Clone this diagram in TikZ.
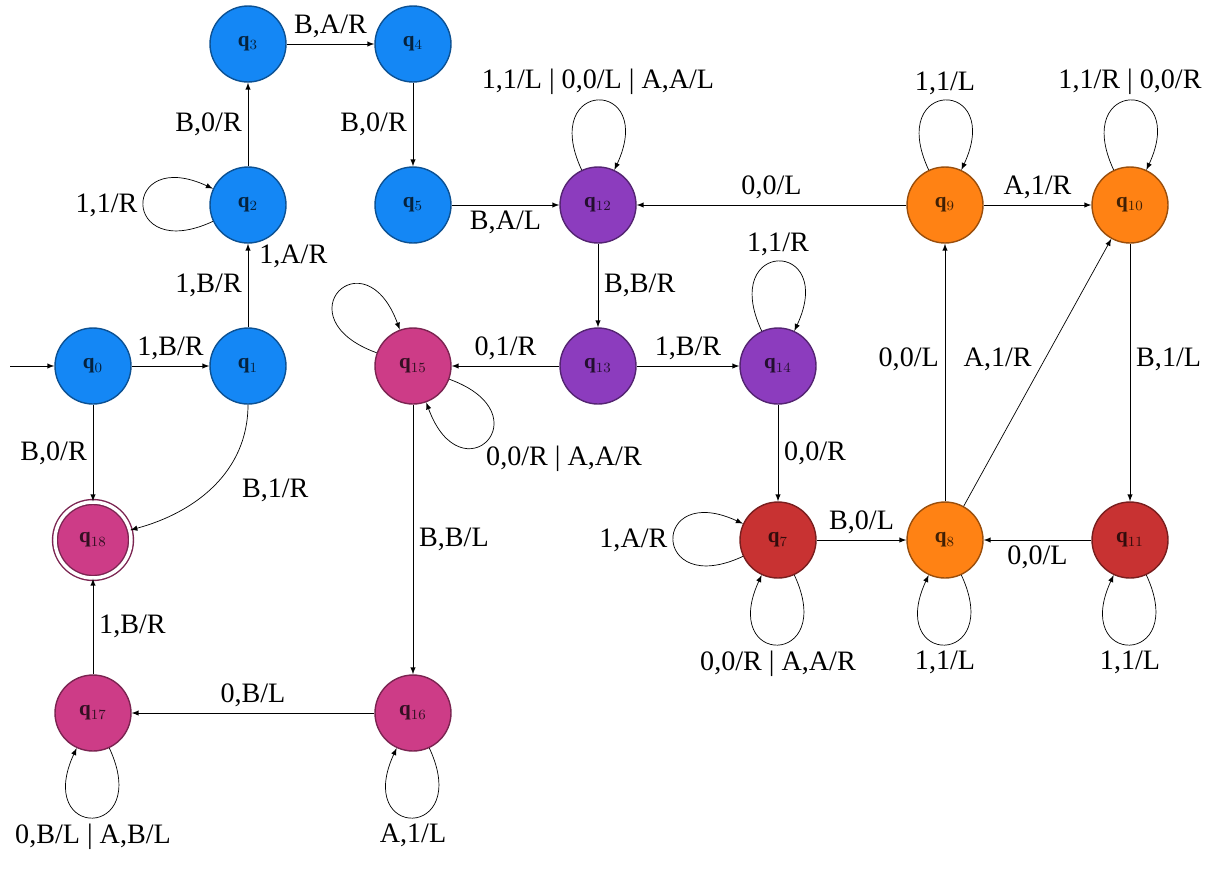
\documentclass[tikz,border=0pt]{standalone}
\usepackage{fontspec}
\setmainfont{Liberation Serif}
\usepackage{tikz}
\usetikzlibrary{arrows}
\usetikzlibrary{automata}

\definecolor{qblue}{RGB}{20,135,245}
\definecolor{qpurple}{RGB}{140,60,190}
\definecolor{qpink}{RGB}{205,60,135}
\definecolor{qred}{RGB}{200,50,50}
\definecolor{qorange}{RGB}{255,130,20}

\tikzset{
  st/.style={circle, draw, thick, minimum size=1.52cm, inner sep=0pt, font=\bfseries\large},
  stblue/.style={st, fill=qblue, draw=qblue!60!black, text=qblue!25!black},
  stpurple/.style={st, fill=qpurple, draw=qpurple!60!black, text=qpurple!25!black},
  stpink/.style={st, fill=qpink, draw=qpink!60!black, text=qpink!25!black},
  stred/.style={st, fill=qred, draw=qred!60!black, text=qred!25!black},
  storange/.style={st, fill=qorange, draw=qorange!60!black, text=qorange!25!black},
  tr/.style={->, >=latex, thin},
  lp/.style={->, >=latex, thin, looseness=8},
  every label/.style={font=\fontsize{16}{18}\selectfont},
}

\begin{document}
\begin{tikzpicture}[x=0.02cm, y=-0.02cm, font=\fontsize{16}{18}\selectfont]
\useasboundingbox (0,0) rectangle (1223,870);

%% blue states
\node[stblue] (q0) at (93,366) {q$_0$};
\node[stblue] (q1) at (248,366) {q$_1$};
\node[stblue] (q2) at (248,205) {q$_2$};
\node[stblue] (q3) at (248,44) {q$_3$};
\node[stblue] (q4) at (413,44) {q$_4$};
\node[stblue] (q5) at (413,205) {q$_5$};

%% purple states
\node[stpurple] (q12) at (598,205) {q$_{12}$};
\node[stpurple] (q13) at (598,366) {q$_{13}$};
\node[stpurple] (q14) at (778,366) {q$_{14}$};

%% pink states
\node[stpink] (q15) at (413,366) {q$_{15}$};
\node[stpink] (q16) at (413,713) {q$_{16}$};
\node[stpink] (q17) at (93,713) {q$_{17}$};
\node[stpink, double, double distance=2pt] (q18) at (93,540) {q$_{18}$};

%% red and orange states
\node[stred] (q7) at (778,540) {q$_7$};
\node[stred] (q11) at (1130,540) {q$_{11}$};
\node[storange] (q8) at (945,540) {q$_8$};
\node[storange] (q9) at (945,205) {q$_9$};
\node[storange] (q10) at (1130,205) {q$_{10}$};

%% start
\coordinate (start) at (10,366);
\draw[tr] (start) -- (q0);

%% transitions
\draw[tr] (q0) -- node[above] {1,B/R} (q1);
\draw[tr] (q1) -- node[left] {1,B/R} (q2);
\draw[tr] (q2) -- node[left] {B,0/R} (q3);
\draw[tr] (q3) -- node[above] {B,A/R} (q4);
\draw[tr] (q4) -- node[left] {B,0/R} (q5);
\draw[tr] (q5) -- node[below] {B,A/L} (q12);
\draw[tr] (q9) -- node[above] {0,0/L} (q12);
\draw[tr] (q9) -- node[above] {A,1/R} (q10);
\draw[tr] (q12) -- node[right] {B,B/R} (q13);
\draw[tr] (q13) -- node[above] {0,1/R} (q15);
\draw[tr] (q13) -- node[above] {1,B/R} (q14);
\draw[tr] (q14) -- node[right] {0,0/R} (q7);
\draw[tr] (q7) -- node[above] {B,0/L} (q8);
\draw[tr] (q11) -- node[below] {0,0/L} (q8);
\draw[tr] (q10) -- node[right, pos=0.45] {B,1/L} (q11);
\draw[tr] (q8) -- node[left, pos=0.55] {0,0/L} (q9);
\draw[tr] (q8) -- node[left, pos=0.55, xshift=-4pt] {A,1/R} (q10);
\draw[tr] (q15) -- node[right] {B,B/L} (q16);
\draw[tr] (q16) -- node[above] {0,B/L} (q17);
\draw[tr] (q17) -- node[right] {1,B/R} (q18);
\draw[tr] (q0) -- node[left] {B,0/R} (q18);
\draw[tr] (q1) to[out=-90, in=15] node[below right, pos=0.4, xshift=6pt] {B,1/R} (q18);

%% loops
\draw[lp] (q2) to[out=205, in=155] node[left] {1,1/R} (q2);
\draw[lp] (q12) to[out=115, in=65] node[above] {1,1/L | 0,0/L | A,A/L} (q12);
\draw[lp] (q9) to[out=115, in=65] node[above] {1,1/L} (q9);
\draw[lp] (q10) to[out=115, in=65] node[above] {1,1/R | 0,0/R} (q10);
\draw[lp] (q14) to[out=115, in=65] node[above] {1,1/R} (q14);
\draw[lp] (q15) to[out=160, in=110] node[above, xshift=-26pt, yshift=10pt] {1,A/R} (q15);
\draw[lp] (q15) to[out=-20, in=-70] node[below right, xshift=-4pt] {0,0/R | A,A/R} (q15);
\draw[lp] (q7) to[out=205, in=155] node[left] {1,A/R} (q7);
\draw[lp] (q7) to[out=-65, in=-115] node[below] {0,0/R | A,A/R} (q7);
\draw[lp] (q8) to[out=-65, in=-115] node[below] {1,1/L} (q8);
\draw[lp] (q11) to[out=-65, in=-115] node[below] {1,1/L} (q11);
\draw[lp] (q16) to[out=-65, in=-115] node[below] {A,1/L} (q16);
\draw[lp] (q17) to[out=-65, in=-115] node[below] {0,B/L | A,B/L} (q17);

\end{tikzpicture}
\end{document}
